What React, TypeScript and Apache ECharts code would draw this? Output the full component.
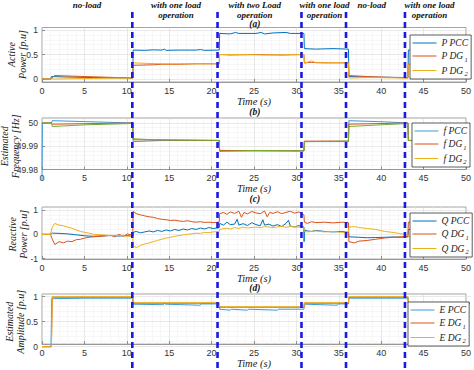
import React, { useEffect, useRef } from "react";
import * as echarts from "echarts";

// ---------- DATA ----------
const switchTimes = [10.65, 20.7, 30.6, 35.85, 42.8];
const phaseLabels = [
  ["no-load"],
  ["with one load", "operation"],
  ["with two Load", "operation"],
  ["with one load", "operation"],
  ["no-load"],
  ["with one load", "operation"],
];
const phaseLabelTimes = [5.3, 15.8, 25.1, 33.3, 38.9, 45.7];
const panelTitles = ["(a)", "(b)", "(c)", "(d)"];
const yNames = [
  "Active\nPower [p.u]",
  "Estimated\nFrequency [Hz]",
  "Reactive\nPower [p.u]",
  "Estimated\nAmplitude [p.u]",
];
const namesA = ["P PCC", "P DG1", "P DG2"];
const namesB = ["f PCC", "f DG1", "f DG2"];
const namesC = ["Q PCC", "Q DG1", "Q DG2"];
const namesD = ["E PCC", "E DG1", "E DG2"];

// (a) active power [t, p.u]
const pPcc = [[0,0],[1.0,0],[1.1,0.05],[3,0.04],[6,0.03],[10.6,0.02],[10.65,0.59],[12,0.585],[13,0.595],[14,0.59],[14.3,0.61],[14.5,0.585],[16,0.59],[18,0.59],[18.5,0.6],[19,0.585],[20.7,0.59],[20.75,0.93],[22,0.92],[22.6,0.95],[23,0.93],[25,0.93],[25.6,0.95],[26,0.92],[27,0.94],[28.5,0.95],[29,0.93],[30.6,0.93],[30.65,0.62],[32,0.61],[34,0.62],[35.8,0.61],[35.85,0.05],[38,0.04],[42.75,0.03],[42.8,0.59],[46,0.59],[50,0.59]];
const pDg1 = [[0,0],[1.0,0],[1.5,0.07],[5,0.05],[10.6,0.02],[10.65,0.28],[13,0.29],[14,0.3],[16,0.3],[18,0.31],[20.7,0.31],[20.75,0.5],[22,0.49],[25,0.5],[28,0.49],[30.6,0.5],[30.65,0.33],[31.5,0.34],[33,0.33],[35.8,0.33],[35.85,0.07],[38,0.05],[42.75,0.02],[42.8,0.3],[50,0.3]];
const pDg2 = [[0,0],[1,0],[1.5,0.0],[5,0.01],[10.6,0.02],[10.65,0.33],[12,0.32],[14,0.31],[17,0.31],[20.7,0.31],[20.75,0.5],[23,0.5],[26,0.49],[30.6,0.5],[30.65,0.32],[31.5,0.37],[32,0.33],[35.8,0.33],[35.85,0.02],[38,0.03],[42.75,0.02],[42.8,0.3],[50,0.3]];

// (b) estimated frequency [t, Hz]
const fPcc = [[0,49.975],[0.05,50.0],[1.1,50.0],[1.2,50.001],[5,50.0006],[10.6,50.0],[10.65,49.992],[14,49.9925],[20.7,49.9925],[20.75,49.988],[25,49.988],[30.6,49.988],[30.65,49.992],[35.8,49.992],[35.85,50.001],[40,50.0005],[42.75,50.0],[42.8,49.9925],[50,49.9925]];
const fDg1 = [[0,50],[1.1,50],[1.2,49.9995],[10.6,50],[10.65,49.9928],[20.7,49.9925],[20.75,49.9882],[30.6,49.988],[30.65,49.9922],[35.8,49.9922],[35.85,49.9995],[42.75,50],[42.8,49.9925],[50,49.9925]];
const fDg2 = [[0,50],[1.1,50],[1.2,49.9985],[5,49.9992],[10.6,49.9998],[10.65,49.9932],[13,49.9928],[20.7,49.9925],[20.75,49.9878],[25,49.9882],[30.6,49.988],[30.65,49.992],[35.8,49.9922],[35.85,49.9985],[40,49.9993],[42.75,49.9998],[42.8,49.9925],[50,49.9925]];

// (c) reactive power [t, p.u]
const qPcc = [[0,0],[1.0,0],[1.2,0.05],[2,0.04],[3,0.02],[4,-0.02],[5,-0.06],[6,-0.08],[7,-0.06],[8,-0.05],[9,-0.07],[10,-0.05],[10.6,-0.08],[10.65,0.08],[11,0.12],[11.5,0.06],[12,0.1],[12.5,0.14],[13,0.1],[13.5,0.16],[14,0.12],[14.5,0.18],[15,0.14],[15.5,0.2],[16,0.16],[16.5,0.22],[17,0.18],[17.5,0.24],[18,0.2],[18.5,0.26],[19,0.22],[19.5,0.28],[20,0.24],[20.7,0.27],[20.75,0.45],[21.2,0.38],[21.6,0.5],[22,0.4],[22.5,0.42],[22.8,0.62],[23,0.38],[23.5,0.44],[24,0.36],[24.5,0.48],[25,0.4],[25.5,0.35],[25.8,0.6],[26,0.38],[26.5,0.42],[27,0.34],[27.5,0.4],[28,0.32],[28.5,0.45],[28.8,0.58],[29,0.34],[29.5,0.3],[30,0.36],[30.6,0.3],[30.62,-0.3],[30.65,0.18],[31,0.14],[31.5,0.12],[32,0.16],[33,0.12],[34,0.1],[35,0.12],[35.8,0.08],[35.85,-0.1],[37,-0.12],[38,-0.14],[39,-0.13],[40,-0.12],[41,-0.11],[42,-0.12],[42.75,-0.1],[42.8,0.2],[45,0.18],[48,0.16],[50,0.15]];
const qDg1 = [[0,0],[1.0,0],[1.2,-0.2],[1.5,-0.42],[2,-0.3],[2.5,-0.35],[3,-0.28],[3.5,-0.3],[4,-0.22],[4.5,-0.2],[5,-0.15],[5.5,-0.12],[6,-0.1],[7,-0.08],[8,-0.04],[8.5,-0.1],[9,0.0],[9.5,-0.08],[10,0.02],[10.6,-0.05],[10.65,0.95],[11,0.85],[11.5,0.8],[12,0.76],[12.5,0.72],[13,0.7],[13.5,0.65],[14,0.62],[14.5,0.6],[15,0.57],[15.5,0.58],[16,0.55],[16.5,0.53],[17,0.56],[17.5,0.52],[18,0.5],[18.5,0.52],[19,0.49],[19.5,0.5],[20,0.48],[20.7,0.5],[20.75,0.85],[21.2,0.9],[21.6,0.82],[22,0.92],[22.5,0.86],[23,0.95],[23.3,0.7],[23.6,0.9],[24,0.84],[24.5,0.94],[25,0.88],[25.5,0.85],[26,0.96],[26.3,0.72],[26.6,0.9],[27,0.86],[27.5,0.93],[28,0.85],[28.5,0.9],[29,0.95],[29.5,0.87],[30,0.92],[30.6,0.8],[30.65,0.5],[31,0.45],[31.5,0.52],[32,0.48],[33,0.5],[34,0.47],[35,0.5],[35.8,0.48],[35.85,-0.3],[36.5,-0.35],[37,-0.28],[38,-0.25],[39,-0.2],[40,-0.15],[41,-0.12],[42,-0.1],[42.75,-0.08],[42.8,0.5],[45,0.48],[48,0.46],[50,0.45]];
const qDg2 = [[0,0],[1.0,0],[1.2,0.3],[1.5,0.45],[2,0.38],[2.5,0.35],[3,0.3],[3.5,0.25],[4,0.18],[4.5,0.12],[5,0.08],[5.5,0.05],[6,0.0],[7,-0.02],[8,-0.05],[9,-0.04],[10,-0.08],[10.6,-0.06],[10.65,-0.45],[11,-0.55],[11.5,-0.45],[12,-0.4],[12.5,-0.35],[13,-0.3],[13.5,-0.25],[14,-0.2],[14.5,-0.15],[15,-0.12],[15.5,-0.08],[16,-0.05],[16.5,-0.02],[17,0.0],[17.5,0.02],[18,0.05],[18.5,0.04],[19,0.08],[19.5,0.07],[20,0.1],[20.7,0.12],[20.75,0.2],[21.5,0.25],[22,0.22],[22.5,0.28],[23,0.24],[23.5,0.3],[24,0.26],[25,0.3],[25.5,0.27],[26,0.32],[27,0.28],[28,0.33],[28.5,0.29],[29,0.32],[30,0.3],[30.6,0.28],[30.65,0.12],[31,0.1],[32,0.14],[33,0.1],[34,0.12],[35,0.08],[35.8,0.1],[35.85,0.3],[36.5,0.32],[37,0.28],[38,0.24],[39,0.2],[40,0.12],[41,0.08],[42,0.02],[42.75,0.0],[42.8,-0.1],[50,-0.1]];

// (d) estimated amplitude [t, p.u]
const ePcc = [[0,0],[1.05,0],[1.15,0.96],[5,0.97],[10.6,0.97],[10.65,0.85],[14.2,0.84],[14.3,0.87],[14.4,0.85],[18.5,0.83],[18.6,0.855],[20.7,0.855],[20.75,0.75],[22,0.73],[22.1,0.75],[24,0.73],[24.1,0.75],[27.5,0.73],[27.6,0.75],[30.6,0.75],[30.65,0.85],[34.5,0.83],[34.6,0.855],[35.8,0.855],[35.85,0.97],[42.75,0.97],[42.8,0.86],[50,0.86]];
const eDg1 = [[0,0],[1.1,0],[1.2,0.99],[10.6,0.99],[10.65,0.87],[20.7,0.87],[20.75,0.79],[30.6,0.79],[30.65,0.87],[35.8,0.87],[35.85,0.99],[42.75,0.99],[42.8,0.87],[50,0.87]];
const eDg2 = [[0,0],[1.1,0],[1.2,1.0],[10.6,1.0],[10.65,0.88],[20.7,0.88],[20.75,0.8],[30.6,0.8],[30.65,0.88],[35.8,0.88],[35.85,1.0],[42.75,1.0],[42.8,0.88],[50,0.88]];

// y axis ranges
const yMins = [0, 49.98, -1, 0];
const yMaxs = [1, 50, 1, 1];
const yIntervals = [0.5, 0.01, 1, 0.5];

// ---------- STYLE / LAYOUT ----------
const SERIF = "Liberation Serif, Times New Roman, serif";
const SANS = "Liberation Sans, Arial, sans-serif";
const BLUE = "#0072BD";
const RED = "#D95319";
const YELLOW = "#EDB120";
const GREEN = "#77AC30";
const LBLUE = "#3b9ad8";

const panels = [
  { box: [27.5, 54.5], data: [30, 49], legend: [410, 35], names: namesA, series: [pPcc, pDg1, pDg2], colors: [BLUE, RED, YELLOW], legendColors: [BLUE, RED, YELLOW], nameX: 16.5, titleY: 24 },
  { box: [118, 51.5], data: [123, 46.5], legend: [412, 123], names: namesB, series: [fPcc, fDg1, fDg2], colors: [LBLUE, RED, GREEN], legendColors: [LBLUE, RED, YELLOW], nameX: 10, titleY: 112 },
  { box: [207, 52], data: [210, 48.7], legend: [410, 213], names: namesC, series: [qPcc, qDg1, qDg2], colors: [BLUE, RED, YELLOW], legendColors: [BLUE, RED, YELLOW], nameX: 18, titleY: 199 },
  { box: [294, 53], data: [296.7, 50], legend: [408, 302], names: namesD, series: [ePcc, eDg1, eDg2], colors: [LBLUE, RED, YELLOW], legendColors: [LBLUE, RED, YELLOW], nameX: 15, titleY: 288 },
];

const LEFT = 42;
const RIGHT = 4;

export default function App() {
  const ref = useRef<HTMLDivElement>(null);
  useEffect(() => {
    document.body.style.margin = "0";
    if (!ref.current) return;
    const chart = echarts.init(ref.current, undefined, { renderer: "svg" });

    const grid: any[] = [];
    const xAxis: any[] = [];
    const yAxis: any[] = [];
    const series: any[] = [];
    const legend: any[] = [];

    panels.forEach((p, k) => {
      grid.push({ left: LEFT, right: RIGHT, top: p.box[0], height: p.box[1], show: true, borderColor: "#8c8c8c", borderWidth: 0.8, backgroundColor: "transparent" });
      grid.push({ left: LEFT, right: RIGHT, top: p.data[0], height: p.data[1] });
      xAxis.push({
        gridIndex: 2 * k, type: "value", min: 0, max: 50, interval: 5,
        axisLine: { show: true, lineStyle: { color: "#8c8c8c", width: 0.8 } },
        axisTick: { show: true, inside: true, length: 3, lineStyle: { color: "#8c8c8c" } },
        axisLabel: { show: true, margin: 4, fontSize: 9, color: "#333", fontFamily: SANS },
        splitLine: { show: true, lineStyle: { color: "#dadada", width: 0.6 } },
        minorTick: { show: false, splitNumber: 5 },
        minorSplitLine: { show: true, lineStyle: { color: "#efefef", width: 0.5 } },
        name: "Time (s)", nameLocation: "middle", nameGap: 12,
        nameTextStyle: { fontFamily: SERIF, fontStyle: "italic", fontSize: 10.5, color: "#222" },
      });
      xAxis.push({ gridIndex: 2 * k + 1, type: "value", min: 0, max: 50, show: false });
      yAxis.push({ gridIndex: 2 * k, type: "value", min: 0, max: 1, show: false });
      yAxis.push({
        gridIndex: 2 * k + 1, type: "value", min: yMins[k], max: yMaxs[k], interval: yIntervals[k],
        axisLine: { show: false },
        axisTick: { show: true, inside: true, length: 3, lineStyle: { color: "#8c8c8c" } },
        axisLabel: { show: true, margin: 4, fontSize: 8.5, color: "#333", fontFamily: SANS },
        splitLine: { show: true, lineStyle: { color: "#dadada", width: 0.6 } },
        minorTick: { show: false, splitNumber: 5 },
        minorSplitLine: { show: true, lineStyle: { color: "#efefef", width: 0.5 } },
      });
      p.series.forEach((d, i) => {
        series.push({
          type: "line", name: p.names[i], xAxisIndex: 2 * k + 1, yAxisIndex: 2 * k + 1,
          data: d, symbol: "none", clip: false,
          lineStyle: { width: 1, color: p.colors[i] }, itemStyle: { color: p.colors[i] },
        });
      });
      legend.push({
        data: p.names.map((n, i) => ({ name: n, lineStyle: { color: p.legendColors[i], width: 1 } })),
        itemStyle: { opacity: 0, borderWidth: 0 },
        left: p.legend[0], top: p.legend[1], orient: "vertical",
        backgroundColor: "#fff", borderColor: "#333", borderWidth: 0.8,
        padding: [3, 3, 2, 2], itemGap: 3, itemWidth: 24, itemHeight: 11,
        selectedMode: false,
        formatter: (name: string) => {
          const m = name.match(/^(.*DG)(\d)$/);
          return m ? `{n|${m[1]}}{s|${m[2]}}` : `{n|${name}}`;
        },
        textStyle: {
          rich: {
            n: { fontFamily: SERIF, fontStyle: "italic", fontSize: 9.5, color: "#222" },
            s: { fontFamily: SERIF, fontStyle: "italic", fontSize: 6.5, color: "#222", padding: [6, 0, 0, 1] },
          },
        },
      });
    });

    chart.setOption({ animation: false, backgroundColor: "#fff", grid, xAxis, yAxis, series, legend });

    const graphic: any[] = [];
    const xpx = (t: number) => chart.convertToPixel({ xAxisIndex: 0 }, t) as number;
    switchTimes.forEach((t) => {
      const x = xpx(t);
      graphic.push({ type: "line", z: 100, shape: { x1: x, y1: 12, x2: x, y2: 370 }, style: { stroke: "#1a1ae0", lineWidth: 2.6, lineDash: [6, 4] } });
    });
    phaseLabels.forEach((lines, i) => {
      const x = xpx(phaseLabelTimes[i]);
      lines.forEach((s, j) => {
        graphic.push({ type: "text", z: 100, x, y: 5 + j * 9.5, style: { text: s, textAlign: "center", textVerticalAlign: "middle", fontFamily: SERIF, fontStyle: "italic", fontWeight: "bold", fontSize: 9, fill: "#111" } });
      });
    });
    panels.forEach((p, k) => {
      graphic.push({ type: "text", z: 100, x: xpx(25.1), y: p.titleY, style: { text: panelTitles[k], textAlign: "center", textVerticalAlign: "middle", fontFamily: SERIF, fontStyle: "italic", fontWeight: "bold", fontSize: 9.5, fill: "#111" } });
      graphic.push({ type: "text", z: 100, x: p.nameX, y: p.data[0] + p.data[1] / 2, rotation: Math.PI / 2, style: { text: yNames[k], textAlign: "center", textVerticalAlign: "middle", fontFamily: SERIF, fontStyle: "italic", fontSize: 10, lineHeight: 11, fill: "#222" } });
    });
    chart.setOption({ graphic });

    return () => chart.dispose();
  }, []);
  return <div ref={ref} style={{ position: "absolute", left: 0, top: 0, width: 474, height: 370 }} />;
}
